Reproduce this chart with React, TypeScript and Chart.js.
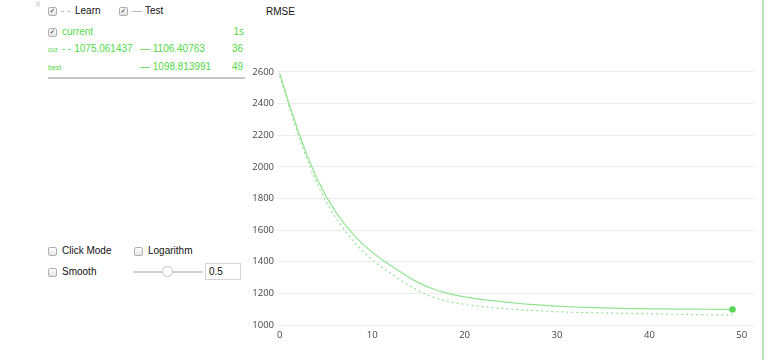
import React, { useEffect, useRef } from "react";
import { Chart, registerables } from "chart.js";

Chart.register(...registerables);

const iterations: number[] = Array.from({ length: 50 }, (_, i) => i);

const testRmse: number[] = [
  2590, 2400, 2225, 2065, 1930, 1815, 1720, 1640, 1570, 1510,
  1460, 1415, 1376, 1338, 1300, 1268, 1241, 1220, 1203, 1189,
  1178, 1169, 1161, 1154, 1148, 1142, 1136, 1131, 1127, 1123,
  1119, 1116, 1114, 1112, 1110, 1108, 1106.4, 1105, 1104, 1103,
  1102.5, 1102, 1101.5, 1101, 1100.5, 1100, 1099.6, 1099.3, 1099, 1098.8,
];

const learnRmse: number[] = [
  2575, 2380, 2200, 2037, 1898, 1780, 1682, 1600, 1527, 1465,
  1413, 1367, 1327, 1287, 1249, 1216, 1188, 1168, 1152, 1140,
  1130, 1122, 1116, 1110, 1105, 1100, 1096, 1093, 1090, 1087,
  1084, 1082, 1080.5, 1079, 1077.5, 1076, 1075.06, 1074, 1073, 1072,
  1071, 1070, 1069, 1068, 1067, 1066, 1065, 1064.5, 1064, 1063.5,
];

const bestIteration = 49;
const xTicks: number[] = [0, 10, 20, 30, 40, 50];
const yTicks: number[] = [1000, 1200, 1400, 1600, 1800, 2000, 2200, 2400, 2600];

const LINE = "#93e393";
const DOT = "#5ad65a";
const TXT_GREEN = "#52d84a";
const FONT = "'Liberation Sans', Arial, sans-serif";

const Txt = ({ x, y, children, size = 10, color = "#111", right = false }: any) => (
  <div
    style={{
      position: "absolute",
      top: y - 7,
      left: right ? undefined : x,
      right: right ? 768 - x : undefined,
      fontSize: size,
      lineHeight: "14px",
      color,
      whiteSpace: "pre",
      fontFamily: FONT,
    }}
  >
    {children}
  </div>
);

const Box = ({ x, y, checked }: any) => (
  <div
    style={{
      position: "absolute",
      left: x,
      top: y - 4,
      width: 7,
      height: 7,
      border: "1px solid #b0b0b0",
      borderRadius: 2,
      background: "linear-gradient(#ffffff, #e4e4e4)",
      fontSize: 7,
      lineHeight: "7px",
      textAlign: "center",
      color: "#333",
      fontFamily: "'DejaVu Sans', sans-serif",
    }}
  >
    {checked ? "✓" : ""}
  </div>
);

export default function App() {
  const ref = useRef<HTMLCanvasElement | null>(null);

  useEffect(() => {
    if (!ref.current) return;
    const chart = new Chart(ref.current, {
      type: "line",
      data: {
        datasets: [
          {
            label: "Learn",
            data: iterations.map((x, i) => ({ x, y: learnRmse[i] })),
            borderColor: LINE,
            borderWidth: 1.2,
            borderDash: [2, 3],
            pointRadius: 0,
            tension: 0,
            fill: false,
          },
          {
            label: "Test",
            data: iterations.map((x, i) => ({ x, y: testRmse[i] })),
            borderColor: LINE,
            borderWidth: 1.2,
            pointRadius: iterations.map((x) => (x === bestIteration ? 2.6 : 0)),
            pointBackgroundColor: DOT,
            pointBorderColor: DOT,
            tension: 0,
            fill: false,
          },
        ],
      },
      options: {
        responsive: false,
        animation: false,
        maintainAspectRatio: false,
        layout: { padding: { top: 64, left: 0, right: 0, bottom: 0 } },
        plugins: { legend: { display: false }, tooltip: { enabled: false } },
        scales: {
          x: {
            type: "linear",
            min: -0.3,
            max: 51.3,
            afterFit: (s: any) => {
              s.height = 33.4;
            },
            afterBuildTicks: (s: any) => {
              s.ticks = xTicks.map((v) => ({ value: v }));
            },
            ticks: {
              includeBounds: false,
              stepSize: 10,
              color: "#444",
              padding: 3,
              callback: (v: any) => String(v),
              font: { family: "'Open Sans', sans-serif", size: 9.5 },
            },
            grid: { display: false, drawTicks: false },
            border: { display: false },
          },
          y: {
            type: "linear",
            min: 990,
            max: 2650,
            afterFit: (s: any) => {
              s.width = 37;
            },
            afterBuildTicks: (s: any) => {
              s.ticks = yTicks.map((v) => ({ value: v }));
            },
            ticks: {
              includeBounds: false,
              stepSize: 200,
              color: "#444",
              padding: 3,
              callback: (v: any) => String(v),
              font: { family: "'Open Sans', sans-serif", size: 9.5 },
            },
            grid: { color: "#ececec", drawTicks: false, lineWidth: 1 },
            border: { display: false },
          },
        },
      },
    });
    return () => chart.destroy();
  }, []);

  return (
    <div
      style={{
        position: "absolute",
        left: 0,
        top: 0,
        width: 768,
        height: 360,
        background: "#fff",
        fontFamily: FONT,
        overflow: "hidden",
      }}
    >
      <Txt x={35} y={5} size={10} color="#c4c4c4">×</Txt>

      <Box x={48} y={11} checked />
      <Txt x={61} y={11} color="#aaa">- -</Txt>
      <Txt x={75} y={11}>Learn</Txt>
      <Box x={119} y={11} checked />
      <Txt x={132} y={11} color="#aaa">—</Txt>
      <Txt x={145} y={11}>Test</Txt>

      <Box x={48} y={32} checked />
      <Txt x={62} y={32} color={TXT_GREEN}>current</Txt>
      <Txt x={244} y={32} color={TXT_GREEN} right>1s</Txt>

      <Txt x={48} y={50} size={7} color={TXT_GREEN}>cur</Txt>
      <Txt x={62} y={49} color={TXT_GREEN}>- - 1075.061437</Txt>
      <Txt x={140} y={49} color={TXT_GREEN}>— 1106.40763</Txt>
      <Txt x={243} y={49} color={TXT_GREEN} right>36</Txt>

      <Txt x={48} y={68} size={7} color={TXT_GREEN}>best</Txt>
      <Txt x={140} y={67} color={TXT_GREEN}>— 1098.813991</Txt>
      <Txt x={243} y={67} color={TXT_GREEN} right>49</Txt>

      <div style={{ position: "absolute", left: 48, top: 77, width: 197, height: 2, background: "#c8c8c8" }} />

      <Box x={48} y={251} checked={false} />
      <Txt x={62} y={251}>Click Mode</Txt>
      <Box x={134} y={251} checked={false} />
      <Txt x={148} y={251}>Logarithm</Txt>
      <Box x={48} y={272} checked={false} />
      <Txt x={62} y={272}>Smooth</Txt>

      <div style={{ position: "absolute", left: 133, top: 271, width: 70, height: 2, background: "#d0d0d0", borderRadius: 1 }} />
      <div
        style={{
          position: "absolute",
          left: 162,
          top: 266,
          width: 11,
          height: 11,
          borderRadius: "50%",
          background: "#fff",
          border: "1px solid #c4c4c4",
          boxSizing: "border-box",
        }}
      />
      <div
        style={{
          position: "absolute",
          left: 205,
          top: 263,
          width: 36,
          height: 17,
          border: "1px solid #d4d4d4",
          boxSizing: "border-box",
        }}
      />
      <Txt x={209} y={271.5}>0.5</Txt>

      <Txt x={266} y={12}>RMSE</Txt>

      <canvas ref={ref} width={519} height={360} style={{ position: "absolute", left: 240, top: 0 }} />

      <div style={{ position: "absolute", left: 762, top: 0, width: 2, height: 360, background: "#b8e6b8" }} />
    </div>
  );
}
